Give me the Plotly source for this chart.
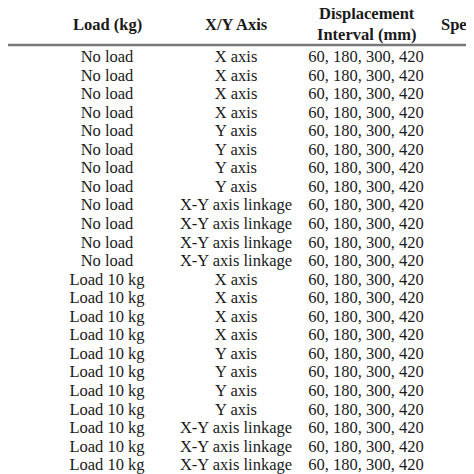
import plotly.graph_objects as go

loads = ["No load"] * 12 + ["Load 10 kg"] * 11
axes = (["X axis"] * 4 + ["Y axis"] * 4 + ["X-Y axis linkage"] * 4 +
        ["X axis"] * 4 + ["Y axis"] * 4 + ["X-Y axis linkage"] * 3)
intervals = ["60, 180, 300, 420"] * 23
headers = ["Load (kg)", "X/Y Axis", "Displacement<br>Interval (mm)"]

col_x = [99, 228, 358]
rows = list(range(len(loads)))
font = dict(family="Liberation Serif, DejaVu Serif, serif", size=16.5, color="#1a1a1a")

fig = go.Figure()
for cx, col in zip(col_x, [loads, axes, intervals]):
    fig.add_trace(go.Scatter(x=[cx] * len(col), y=rows, mode="text", text=col,
                             textfont=font, hoverinfo="skip"))

for cx, h in zip(col_x, headers):
    fig.add_annotation(x=cx, y=-1.83, text="<b>" + h + "</b>", showarrow=False,
                       font=font, xref="x", yref="y")
fig.add_annotation(x=431, y=-1.83, text="<b>Speed</b>", showarrow=False, xanchor="left",
                   font=font, xref="x", yref="y")
fig.add_shape(type="line", x0=0, x1=474, y0=-0.7, y1=-0.7, xref="x", yref="y",
              line=dict(color="#777777", width=2.5))

fig.update_xaxes(range=[0, 474], visible=False)
fig.update_yaxes(range=[22.86, -2.695], visible=False)
fig.update_layout(width=474, height=474, margin=dict(l=0, r=0, t=0, b=0),
                  showlegend=False, plot_bgcolor="white", paper_bgcolor="white")
fig.write_html("out.html")
